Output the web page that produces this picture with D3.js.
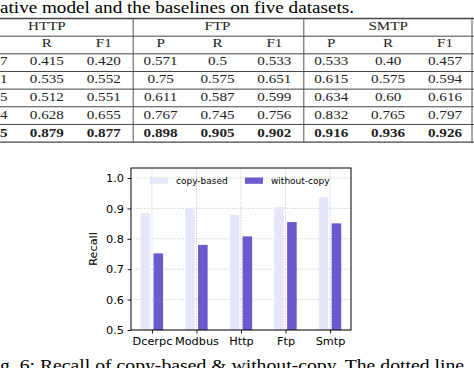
<!DOCTYPE html>
<html>
<head>
<meta charset="utf-8">
<script src="https://cdn.jsdelivr.net/npm/d3@7"></script>
<style>
  body { margin: 0; background: #fff; }
  svg { display: block; }
</style>
</head>
<body>
<div id="chart"></div>
<script>
// table data (cropped screenshot of a paper)
const captionTop = "ative model and the baselines on five datasets.";
const groupNames = ["HTTP", "FTP", "SMTP"];
const subHeads = ["P", "R", "F1"];
// first column is cut by the crop, only its last digit shows
const cutColumn = ["7", "1", "5", "4", "5"];
const tableRows = [
    ["0.415", "0.420", "0.571", "0.5", "0.533", "0.533", "0.40", "0.457"],
    ["0.535", "0.552", "0.75", "0.575", "0.651", "0.615", "0.575", "0.594"],
    ["0.512", "0.551", "0.611", "0.587", "0.599", "0.634", "0.60", "0.616"],
    ["0.628", "0.655", "0.767", "0.745", "0.756", "0.832", "0.765", "0.797"],
    ["0.879", "0.877", "0.898", "0.905", "0.902", "0.916", "0.936", "0.926"]
];

// bar chart data
const categories = ["Dcerpc", "Modbus", "Http", "Ftp", "Smtp"];
const copyBased = [0.885, 0.900, 0.879, 0.905, 0.936];
const withoutCopy = [0.752, 0.780, 0.808, 0.855, 0.851];
const yTicks = [0.5, 0.6, 0.7, 0.8, 0.9, 1.0];
const seriesNames = ["copy-based", "without-copy"];
const captionBottom = "g. 6: Recall of copy-based & without-copy. The dotted line";

const W = 474, H = 368;
const serif = "'Liberation Serif', 'DejaVu Serif', serif";
const sans = "'DejaVu Sans', sans-serif";

const svg = d3.select("#chart").append("svg")
    .attr("width", W)
    .attr("height", H);

svg.append("rect").attr("width", W).attr("height", H).attr("fill", "#fff");

// ---------- table ----------
svg.append("text")
    .attr("x", 0)
    .attr("y", 13)
    .attr("textLength", 354)
    .attr("lengthAdjust", "spacingAndGlyphs")
    .style("font-family", serif)
    .style("font-size", "16px")
    .text(captionTop);

// column centers, column 0 is the cut one
const colX = d3.scalePoint()
    .domain(d3.range(9))
    .range([-10, 445]);
const step = colX.step();

// baselines: 2 header rows + data rows
const rowY = d3.scaleLinear().domain([0, 6]).range([29.5, 136.9]);
// horizontal rules
const ruleY = d3.scaleLinear().domain([0, 7]).range([18.5, 142.1]);

const table = svg.append("g")
    .style("font-family", serif)
    .style("font-size", "13.5px")
    .attr("fill", "#222");

// text slightly stretched sideways like the scan
function cell(x, yy, str, anchor, bold) {
    table.append("text")
        .attr("transform", `translate(${x},${yy}) scale(1.12,1)`)
        .attr("text-anchor", anchor)
        .style("font-weight", bold ? "bold" : "normal")
        .text(str);
}

d3.range(8).forEach(k => {
    table.append("line")
        .attr("x1", 0).attr("x2", W)
        .attr("y1", ruleY(k)).attr("y2", ruleY(k))
        .attr("stroke", "#444")
        .attr("stroke-width", (k === 0 || k === 7) ? 1.3 : 1);
});

// vertical separators after each group
[2, 5, 8].forEach(c => {
    const x = Math.min(colX(c) + step / 2 + 1, W - 2);
    table.append("line")
        .attr("x1", x).attr("x2", x)
        .attr("y1", ruleY(0)).attr("y2", ruleY(7))
        .attr("stroke", "#555")
        .attr("stroke-width", 1);
});

groupNames.forEach((g, i) => {
    cell(colX(i * 3 + 1), rowY(0), g, "middle", false);
    subHeads.forEach((s, j) => {
        if (i * 3 + j > 0) cell(colX(i * 3 + j), rowY(1), s, "middle", false);
    });
});

cutColumn.forEach((v, r) => {
    cell(7.5, rowY(r + 2), v, "end", r === cutColumn.length - 1);
});

tableRows.forEach((row, r) => {
    row.forEach((v, c) => {
        cell(colX(c + 1), rowY(r + 2), v, "middle", r === tableRows.length - 1);
    });
});

// ---------- bar chart ----------
const plot = { left: 131, right: 351, top: 168, bottom: 330 };

const x = d3.scalePoint()
    .domain(categories)
    .range([plot.left, plot.right])
    .padding(0.47);

const y = d3.scaleLinear()
    .domain([0.5, 1.033])
    .range([plot.bottom, plot.top]);

const barW = x.step() * 0.215;
const offs = [-x.step() * 0.148, x.step() * 0.143];
const colors = ["#e6e6fa", "#6a5acd"];

const chart = svg.append("g").style("font-family", sans);

// dotted grid
chart.append("g")
    .selectAll("line")
    .data(yTicks)
    .enter().append("line")
    .attr("x1", plot.left).attr("x2", plot.right)
    .attr("y1", d => y(d)).attr("y2", d => y(d))
    .attr("stroke", "#b0b0b0")
    .attr("stroke-width", 0.8)
    .attr("stroke-dasharray", "1,1.6");

chart.append("g")
    .selectAll("line")
    .data(categories)
    .enter().append("line")
    .attr("x1", d => x(d)).attr("x2", d => x(d))
    .attr("y1", plot.top).attr("y2", plot.bottom)
    .attr("stroke", "#b0b0b0")
    .attr("stroke-width", 0.8)
    .attr("stroke-dasharray", "1,1.6");

// bars
[copyBased, withoutCopy].forEach((vals, s) => {
    chart.append("g")
        .selectAll("rect")
        .data(vals)
        .enter().append("rect")
        .attr("x", (d, i) => x(categories[i]) + offs[s] - barW / 2)
        .attr("y", d => y(d))
        .attr("width", barW)
        .attr("height", d => y(0.5) - y(d))
        .attr("fill", colors[s]);
});

// axes
const yAxis = chart.append("g")
    .attr("transform", `translate(${plot.left},0)`)
    .call(d3.axisLeft(y).tickValues(yTicks).tickFormat(d3.format(".1f")).tickSizeOuter(0).tickSize(3.5).tickPadding(3.5));

const xAxis = chart.append("g")
    .attr("transform", `translate(0,${plot.bottom})`)
    .call(d3.axisBottom(x).tickSizeOuter(0).tickSize(3.5).tickPadding(3));

[yAxis, xAxis].forEach(a => {
    a.select(".domain").remove();
    a.selectAll("text").style("font-family", sans).style("font-size", "11.3px").attr("fill", "#000");
    a.selectAll(".tick line").attr("stroke", "#000").attr("stroke-width", 0.9);
});

// frame
chart.append("rect")
    .attr("x", plot.left).attr("y", plot.top)
    .attr("width", plot.right - plot.left)
    .attr("height", plot.bottom - plot.top)
    .attr("fill", "none")
    .attr("stroke", "#000")
    .attr("stroke-width", 1);

// y label
chart.append("text")
    .attr("transform", `translate(97,${(plot.top + plot.bottom) / 2}) rotate(-90)`)
    .attr("text-anchor", "middle")
    .style("font-size", "11.3px")
    .text("Recall");

// legend
const legendX = [150, 245];
seriesNames.forEach((name, i) => {
    chart.append("rect")
        .attr("x", legendX[i]).attr("y", 177.5)
        .attr("width", 18).attr("height", 6.3)
        .attr("fill", colors[i]);
    chart.append("text")
        .attr("x", legendX[i] + 26)
        .attr("y", 184)
        .style("font-size", "9px")
        .text(name);
});

// figure caption (cut at the bottom edge, as in the crop)
svg.append("text")
    .attr("x", 0)
    .attr("y", 371)
    .attr("textLength", 464)
    .attr("lengthAdjust", "spacingAndGlyphs")
    .style("font-family", serif)
    .style("font-size", "16px")
    .text(captionBottom);
</script>
</body>
</html>
